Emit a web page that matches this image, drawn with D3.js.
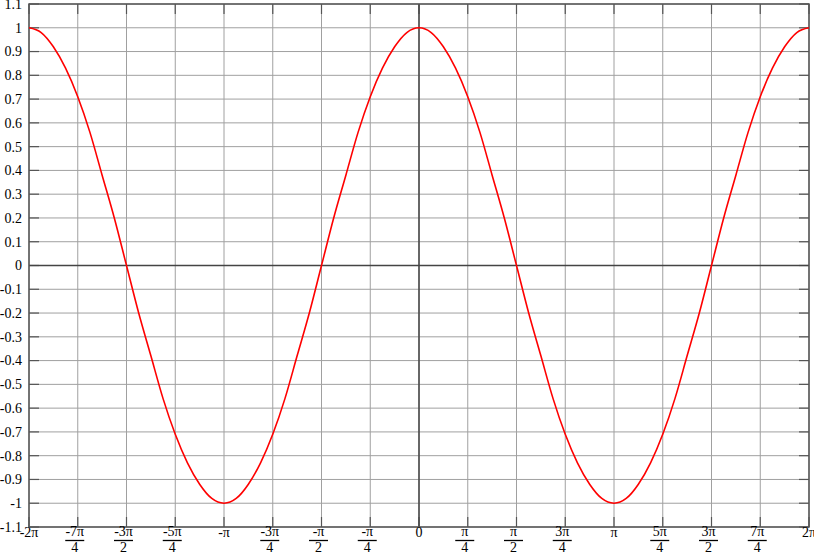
<!DOCTYPE html>
<html>
<head>
<meta charset="utf-8">
<script src="https://cdn.jsdelivr.net/npm/d3@7"></script>
<style>
  body { margin: 0; background: #fff; }
  text { font-family: "Liberation Serif", "Times New Roman", serif; font-size: 14px; fill: #000; }
</style>
</head>
<body>
<svg id="chart" width="814" height="553"></svg>
<script>
// x positions of the curve samples, in multiples of pi (every pi/16)
var curveX = [-2, -1.9375, -1.875, -1.8125, -1.75, -1.6875, -1.625, -1.5625,
    -1.5, -1.4375, -1.375, -1.3125, -1.25, -1.1875, -1.125, -1.0625,
    -1, -0.9375, -0.875, -0.8125, -0.75, -0.6875, -0.625, -0.5625,
    -0.5, -0.4375, -0.375, -0.3125, -0.25, -0.1875, -0.125, -0.0625,
    0, 0.0625, 0.125, 0.1875, 0.25, 0.3125, 0.375, 0.4375,
    0.5, 0.5625, 0.625, 0.6875, 0.75, 0.8125, 0.875, 0.9375,
    1, 1.0625, 1.125, 1.1875, 1.25, 1.3125, 1.375, 1.4375,
    1.5, 1.5625, 1.625, 1.6875, 1.75, 1.8125, 1.875, 1.9375, 2];
// y values
var curveY = [1, 0.98, 0.92, 0.83, 0.71, 0.56, 0.38, 0.2,
    0, -0.2, -0.38, -0.56, -0.71, -0.83, -0.92, -0.98,
    -1, -0.98, -0.92, -0.83, -0.71, -0.56, -0.38, -0.2,
    0, 0.2, 0.38, 0.56, 0.71, 0.83, 0.92, 0.98,
    1, 0.98, 0.92, 0.83, 0.71, 0.56, 0.38, 0.2,
    0, -0.2, -0.38, -0.56, -0.71, -0.83, -0.92, -0.98,
    -1, -0.98, -0.92, -0.83, -0.71, -0.56, -0.38, -0.2,
    0, 0.2, 0.38, 0.56, 0.71, 0.83, 0.92, 0.98, 1];

// x ticks (multiples of pi) and their labels
var xTicks = [-2, -1.75, -1.5, -1.25, -1, -0.75, -0.5, -0.25, 0,
    0.25, 0.5, 0.75, 1, 1.25, 1.5, 1.75, 2];
var xTickLabels = ['-2π', '-7π/4', '-3π/2', '-5π/4', '-π', '-3π/4', '-π/2', '-π/4', '0',
    'π/4', 'π/2', '3π/4', 'π', '5π/4', '3π/2', '7π/4', '2π'];

// y ticks and labels
var yTicks = [1.1, 1, 0.9, 0.8, 0.7, 0.6, 0.5, 0.4, 0.3, 0.2, 0.1, 0,
    -0.1, -0.2, -0.3, -0.4, -0.5, -0.6, -0.7, -0.8, -0.9, -1, -1.1];
var yTickLabels = ['1.1', '1', '0.9', '0.8', '0.7', '0.6', '0.5', '0.4', '0.3', '0.2', '0.1', '0',
    '-0.1', '-0.2', '-0.3', '-0.4', '-0.5', '-0.6', '-0.7', '-0.8', '-0.9', '-1', '-1.1'];

var config = {
    left: 29,
    right: 809,
    top: 4,
    bottom: 527,
    tickLen: 10
};

var svg = d3.select('#chart');

var x = d3.scaleLinear().domain([-2 * Math.PI, 2 * Math.PI]).range([config.left, config.right]);
var y = d3.scaleLinear().domain([-1.1, 1.1]).range([config.bottom, config.top]);

// grid
var grid = svg.append('g').attr('class', 'grid');

grid.selectAll('.vgrid')
    .data(xTicks)
    .enter()
    .append('line')
    .attr('x1', function (d) { return x(d * Math.PI); })
    .attr('x2', function (d) { return x(d * Math.PI); })
    .attr('y1', config.top)
    .attr('y2', config.bottom)
    .style('stroke', '#a0a0a0')
    .style('stroke-width', 1);

grid.selectAll('.hgrid')
    .data(yTicks)
    .enter()
    .append('line')
    .attr('x1', config.left)
    .attr('x2', config.right)
    .attr('y1', function (d) { return y(d); })
    .attr('y2', function (d) { return y(d); })
    .style('stroke', '#a0a0a0')
    .style('stroke-width', 1);

// short dark tick marks inside the frame
var ticks = svg.append('g').attr('class', 'ticks').style('stroke', '#555').style('stroke-width', 1.2);

xTicks.forEach(function (d) {
    var px = x(d * Math.PI);
    ticks.append('line').attr('x1', px).attr('x2', px)
        .attr('y1', config.bottom).attr('y2', config.bottom - config.tickLen);
    ticks.append('line').attr('x1', px).attr('x2', px)
        .attr('y1', config.top).attr('y2', config.top + config.tickLen);
});

yTicks.forEach(function (d) {
    var py = y(d);
    ticks.append('line').attr('x1', config.left).attr('x2', config.left + config.tickLen)
        .attr('y1', py).attr('y2', py);
    ticks.append('line').attr('x1', config.right).attr('x2', config.right - config.tickLen)
        .attr('y1', py).attr('y2', py);
});

// zero axes
svg.append('line')
    .attr('x1', x(0)).attr('x2', x(0))
    .attr('y1', config.top).attr('y2', config.bottom)
    .style('stroke', '#444').style('stroke-width', 1.5);
svg.append('line')
    .attr('x1', config.left).attr('x2', config.right)
    .attr('y1', y(0)).attr('y2', y(0))
    .style('stroke', '#444').style('stroke-width', 1.5);

// frame
svg.append('rect')
    .attr('x', config.left)
    .attr('y', config.top)
    .attr('width', config.right - config.left)
    .attr('height', config.bottom - config.top)
    .style('fill', 'none')
    .style('stroke', '#555')
    .style('stroke-width', 1.5);

// curve
var points = curveX.map(function (d, i) { return [d * Math.PI, curveY[i]]; });

svg.append('path')
    .datum(points)
    .attr('d', d3.line()
        .x(function (d) { return x(d[0]); })
        .y(function (d) { return y(d[1]); })
        .curve(d3.curveMonotoneX))
    .style('fill', 'none')
    .style('stroke', '#ff0000')
    .style('stroke-width', 1.6);

// y labels
svg.append('g').selectAll('text')
    .data(yTicks)
    .enter()
    .append('text')
    .attr('x', config.left - 7)
    .attr('y', function (d) { return y(d); })
    .attr('dy', '0.35em')
    .attr('text-anchor', 'end')
    .text(function (d, i) { return yTickLabels[i]; });

// x labels, stacked fractions where needed
var xl = svg.append('g').attr('class', 'x-labels');

xTicks.forEach(function (d, i) {
    var label = xTickLabels[i];
    var parts = label.split('/');
    var px = x(d * Math.PI);
    if (parts.length === 1) {
        xl.append('text')
            .attr('x', px)
            .attr('y', 537)
            .attr('text-anchor', 'middle')
            .text(label);
    } else {
        var cx = px - 3;
        xl.append('text')
            .attr('x', cx)
            .attr('y', 536)
            .attr('text-anchor', 'middle')
            .text(parts[0]);
        xl.append('line')
            .attr('x1', cx - 9.5).attr('x2', cx + 9.5)
            .attr('y1', 540.5).attr('y2', 540.5)
            .style('stroke', '#000').style('stroke-width', 1.3);
        xl.append('text')
            .attr('x', cx)
            .attr('y', 551.5)
            .attr('text-anchor', 'middle')
            .text(parts[1]);
    }
});
</script>
</body>
</html>
